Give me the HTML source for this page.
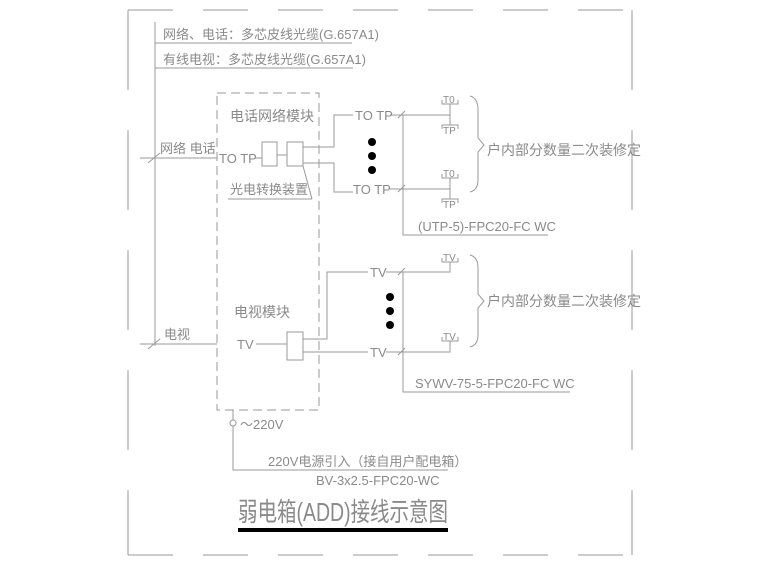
<!DOCTYPE html>
<html><head><meta charset="utf-8"><style>
html,body{margin:0;padding:0;background:#fff;}
svg{display:block}
text{font-family:"Liberation Sans","Noto Sans CJK SC",sans-serif;fill:#8a8a8a}
</style></head><body>
<svg width="760" height="570" viewBox="0 0 760 570" xmlns="http://www.w3.org/2000/svg">
<g stroke="#9a9a9a" stroke-width="1" fill="none">
<path d="M128 10 H632" stroke-dasharray="45 30"/>
<path d="M128 555 H632" stroke-dasharray="45 30"/>
<path d="M128 10 V555" stroke-dasharray="80 40"/>
<path d="M632 10 V555" stroke-dasharray="80 40"/>
<path d="M155 22 V346"/>
<path d="M155 43 H352 M155 68 H353"/>
<rect x="217" y="93" width="102" height="317" stroke-dasharray="9 5"/>
<path d="M140 158 H217 M148 163 L160 153"/>
<path d="M255 158 H262"/>
<rect x="262" y="142" width="15" height="24"/>
<path d="M277 155 H287"/>
<rect x="287" y="142" width="16" height="24"/>
<path d="M303 147 H334 V115 H353 M303 163 H334 V192 H353"/>
<path d="M303 166 L312 199 M228 199 H312"/>
<path d="M390 115 H450 M390 189 H450"/>
<path d="M398 118 L405 111 M398 192 L405 185"/>
<path d="M403 115 V235 H548"/>
<path d="M442 100 V104 H458 V100 M450 104 V125 M442 129 V125 H458 V129"/>
<path d="M442 174 V178 H458 V174 M450 178 V189 M442 203 V199 H458 V203 M450 189 V199"/>
<path d="M470 96 Q478 98 478 110 V138 L484 145 L478 152 V180 Q478 190 470 192"/>
<path d="M140 344 H217 M148 349 L160 339"/>
<path d="M256 344 H287"/>
<rect x="287" y="332" width="16" height="28"/>
<path d="M303 339 H327 V272 H368 M303 352 H368"/>
<path d="M386 272 H450 V262 M386 352 H450 V341 M398 275 L405 268 M398 355 L405 348"/>
<path d="M442 258 V262 H458 V258 M442 337 V341 H458 V337"/>
<path d="M403 272 V392 H570"/>
<path d="M470 255 Q478 257 478 268 V294 L484 301 L478 308 V335 Q478 345 470 347"/>
<circle cx="233" cy="423" r="3"/>
<path d="M233 410 V420 M233 426 V470 H448"/>
</g>
<g fill="#000">
<circle cx="372" cy="142" r="4"/><circle cx="372" cy="156" r="4"/><circle cx="372" cy="170" r="4"/>
<circle cx="390" cy="297" r="4"/><circle cx="390" cy="311" r="4"/><circle cx="390" cy="325" r="4"/>
<rect x="238" y="528" width="210" height="4"/>
</g>
<g font-size="13">
<text x="163" y="39">网络、电话：多芯皮线光缆(G.657A1)</text>
<text x="163" y="64">有线电视：多芯皮线光缆(G.657A1)</text>
<text x="230" y="121" font-size="14">电话网络模块</text>
<text x="160" y="153">网络 电话</text>
<text x="219" y="163">TO TP</text>
<text x="230" y="194">光电转换装置</text>
<text x="355" y="120">TO TP</text>
<text x="353" y="194">TO TP</text>
<text x="443" y="103" font-size="10">T0</text>
<text x="443" y="134" font-size="10">TP</text>
<text x="443" y="177" font-size="10">T0</text>
<text x="443" y="208" font-size="10">TP</text>
<text x="487" y="155" font-size="14">户内部分数量二次装修定</text>
<text x="418" y="231">(UTP-5)-FPC20-FC WC</text>
<text x="370" y="277">TV</text>
<text x="370" y="357">TV</text>
<text x="443" y="261" font-size="10">TV</text>
<text x="443" y="340" font-size="10">TV</text>
<text x="487" y="306" font-size="14">户内部分数量二次装修定</text>
<text x="234" y="317" font-size="14">电视模块</text>
<text x="164" y="339">电视</text>
<text x="237" y="349">TV</text>
<text x="415" y="388">SYWV-75-5-FPC20-FC WC</text>
<text x="240" y="429">～220V</text>
<text x="268" y="466">220V电源引入（接自用户配电箱）</text>
<text x="316" y="485">BV-3x2.5-FPC20-WC</text>
<text x="238" y="521" font-size="26" textLength="210" lengthAdjust="spacingAndGlyphs">弱电箱(ADD)接线示意图</text>
</g>
</svg>
</body></html>
